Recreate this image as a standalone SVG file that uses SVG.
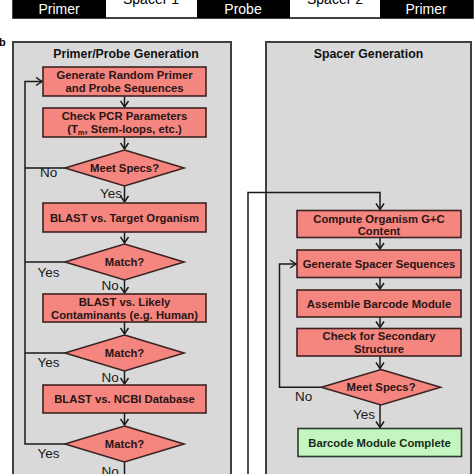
<svg xmlns="http://www.w3.org/2000/svg" width="474" height="474" viewBox="0 0 474 474">
<defs>
<marker id="arr" markerWidth="10" markerHeight="10" refX="8" refY="5" orient="auto" markerUnits="userSpaceOnUse">
<path d="M2,1 L8,5 L2,9" fill="none" stroke="#1a1a1a" stroke-width="1.5"/>
</marker>
<style>
.panel{fill:#d9d9d9;stroke:#404040;stroke-width:2}
.box{fill:#f4857f;stroke:#3d2222;stroke-width:1.6}
.gbox{fill:#c4f7c0;stroke:#2a3a2a;stroke-width:1.6}
.bt{font-family:"Liberation Sans",Arial,sans-serif;font-weight:bold;font-size:11.3px;fill:#2a1515;text-anchor:middle}
.title{font-family:"Liberation Sans",Arial,sans-serif;font-weight:bold;font-size:12.3px;fill:#111;text-anchor:middle}
.lbl{font-family:"Liberation Sans",Arial,sans-serif;font-size:13.5px;fill:#1a1a1a}
.bar{font-family:"Liberation Sans",Arial,sans-serif;font-size:14px;text-anchor:middle}
.ln{fill:none;stroke:#1a1a1a;stroke-width:1.5}
</style>
</defs>
<rect width="474" height="474" fill="#ffffff"/>

<g id="topbar">
<rect x="13" y="-2" width="460" height="20" fill="#ffffff" stroke="#000" stroke-width="1.5"/>
<rect x="13" y="-2" width="93" height="20" fill="#000"/>
<rect x="197" y="-2" width="93" height="20" fill="#000"/>
<rect x="380" y="-2" width="93" height="20" fill="#000"/>
<text class="bar" x="59" y="13.5" fill="#fff">Primer</text>
<text class="bar" x="151" y="3.5" fill="#000">Spacer 1</text>
<text class="bar" x="243" y="13.5" fill="#fff">Probe</text>
<text class="bar" x="335" y="3.5" fill="#000">Spacer 2</text>
<text class="bar" x="426" y="13.5" fill="#fff">Primer</text>
</g>

<text x="-1" y="45.5" font-family="Liberation Sans,Arial,sans-serif" font-weight="bold" font-size="11px" fill="#000">b</text>

<g id="panel-left">
<rect class="panel" x="13" y="42" width="218" height="440"/>
<text class="title" x="126" y="58">Primer/Probe Generation</text>
</g>
<g id="panel-right">
<rect class="panel" x="266" y="42" width="205" height="440"/>
<text class="title" x="368.5" y="58">Spacer Generation</text>
</g>

<g id="connectors">
<path class="ln" d="M124.5,96 V107" marker-end="url(#arr)"/>
<path class="ln" d="M124.5,137 V149" marker-end="url(#arr)"/>
<path class="ln" d="M124.5,186 V202" marker-end="url(#arr)"/>
<path class="ln" d="M124.5,232 V243" marker-end="url(#arr)"/>
<path class="ln" d="M124.5,280 V293" marker-end="url(#arr)"/>
<path class="ln" d="M124.5,322 V334" marker-end="url(#arr)"/>
<path class="ln" d="M124.5,371 V384" marker-end="url(#arr)"/>
<path class="ln" d="M124.5,413 V425" marker-end="url(#arr)"/>
<path class="ln" d="M124.5,462 V480"/>
<path class="ln" d="M65,168 H25 M65,262 H25 M65,353 H25"/>
<path class="ln" d="M65,444 H25 V81.5 H42" marker-end="url(#arr)"/>
<path class="ln" d="M248,480 V192.5 H380 V209.5" marker-end="url(#arr)"/>
<path class="ln" d="M380,237.5 V249" marker-end="url(#arr)"/>
<path class="ln" d="M380,277.5 V289" marker-end="url(#arr)"/>
<path class="ln" d="M380,317 V327.5" marker-end="url(#arr)"/>
<path class="ln" d="M380,356 V368.5" marker-end="url(#arr)"/>
<path class="ln" d="M380,405 V427.5" marker-end="url(#arr)"/>
<path class="ln" d="M321.5,387.3 H279.5 V264 H296" marker-end="url(#arr)"/>
</g>

<g id="n-generate">
<rect class="box" x="43" y="67" width="163" height="29"/>
<text class="bt" x="124.5" y="79">Generate Random Primer</text>
<text class="bt" x="124.5" y="92">and Probe Sequences</text>
</g>
<g id="n-checkpcr">
<rect class="box" x="43" y="108" width="163" height="29"/>
<text class="bt" x="124.5" y="120">Check PCR Parameters</text>
<text class="bt" x="124.5" y="133">(T<tspan font-size="7.5px" dy="2">m</tspan><tspan dy="-2">, Stem-loops, etc.)</tspan></text>
</g>
<g id="n-meetspecs1">
<polygon class="box" points="124.5,150 184,168 124.5,186 65,168"/>
<text class="bt" x="124.5" y="172">Meet Specs?</text>
</g>
<text class="lbl" x="40" y="177">No</text>
<text class="lbl" x="100" y="198">Yes</text>
<g id="n-blast-target">
<rect class="box" x="43" y="203" width="163" height="29"/>
<text class="bt" x="124.5" y="221.5">BLAST vs. Target Organism</text>
</g>
<g id="n-match1">
<polygon class="box" points="124.5,244 184,262 124.5,280 65,262"/>
<text class="bt" x="124.5" y="266">Match?</text>
</g>
<text class="lbl" x="37.5" y="276.5">Yes</text>
<text class="lbl" x="101.5" y="290">No</text>
<g id="n-blast-contam">
<rect class="box" x="43" y="294" width="163" height="28"/>
<text class="bt" x="124.5" y="305.5">BLAST vs. Likely</text>
<text class="bt" x="124.5" y="318.5">Contaminants (e.g. Human)</text>
</g>
<g id="n-match2">
<polygon class="box" points="124.5,335 184,353 124.5,371 65,353"/>
<text class="bt" x="124.5" y="357">Match?</text>
</g>
<text class="lbl" x="37.5" y="367">Yes</text>
<text class="lbl" x="101.5" y="381.5">No</text>
<g id="n-blast-ncbi">
<rect class="box" x="43" y="385" width="163" height="28"/>
<text class="bt" x="124.5" y="403">BLAST vs. NCBI Database</text>
</g>
<g id="n-match3">
<polygon class="box" points="124.5,426 184,444 124.5,462 65,444"/>
<text class="bt" x="124.5" y="448">Match?</text>
</g>
<text class="lbl" x="37.5" y="458">Yes</text>
<text class="lbl" x="101.5" y="476">No</text>

<g id="n-compute-gc">
<rect class="box" x="297" y="210.5" width="164" height="27"/>
<text class="bt" x="379" y="222.5">Compute Organism G+C</text>
<text class="bt" x="379" y="234.5">Content</text>
</g>
<g id="n-gen-spacer">
<rect class="box" x="297" y="250" width="164" height="27.5"/>
<text class="bt" x="379" y="268">Generate Spacer Sequences</text>
</g>
<g id="n-assemble">
<rect class="box" x="297" y="290" width="164" height="27"/>
<text class="bt" x="379" y="307.5">Assemble Barcode Module</text>
</g>
<g id="n-secondary">
<rect class="box" x="297" y="328.5" width="164" height="27.5"/>
<text class="bt" x="379" y="340">Check for Secondary</text>
<text class="bt" x="379" y="353">Structure</text>
</g>
<g id="n-meetspecs2">
<polygon class="box" points="381,369.5 440.5,387.3 381,405 321.5,387.3"/>
<text class="bt" x="381" y="391.3">Meet Specs?</text>
</g>
<text class="lbl" x="295" y="401">No</text>
<text class="lbl" x="353" y="419">Yes</text>
<g id="n-complete">
<rect class="gbox" x="298" y="428.5" width="163.5" height="28"/>
<text class="bt" x="379.5" y="446.5" style="fill:#1a2a1a">Barcode Module Complete</text>
</g>
</svg>
